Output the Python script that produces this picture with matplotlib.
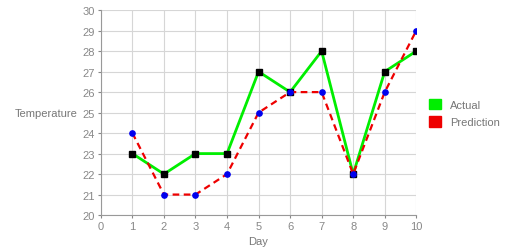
import matplotlib
matplotlib.use("Agg")
import matplotlib.pyplot as plt
from matplotlib.patches import Patch

plt.rcParams['font.family'] = ['Liberation Sans', 'DejaVu Sans']

days = [1, 2, 3, 4, 5, 6, 7, 8, 9, 10]
actual = [23, 22, 23, 23, 27, 26, 28, 22, 27, 28]
prediction = [24, 21, 21, 22, 25, 26, 26, 22, 26, 29]

fig = plt.figure(figsize=(5.12, 2.53), dpi=100)
ax = fig.add_axes([0.197, 0.146, 0.616, 0.81])

ax.plot(days, actual, color="#00ee00", lw=2, marker="s", ms=4.2,
        mfc="black", mec="black", zorder=3)
ax.plot(days, prediction, color="#ee0000", lw=1.6, ls=(0, (3, 2)), marker="o",
        ms=3.8, mfc="#0000ee", mec="#0000ee", zorder=4)

ax.set_xlim(0, 10)
ax.set_ylim(20, 30)
ax.set_xticks(range(0, 11))
ax.set_yticks(range(20, 31))
ax.grid(True, color="#d6d6d6", lw=0.8)
ax.set_axisbelow(True)
for s in ["top", "right"]:
    ax.spines[s].set_visible(False)
for s in ["left", "bottom"]:
    ax.spines[s].set_color("#999999")
ax.tick_params(colors="#888888", labelsize=8, length=2, pad=2)

ax.set_xlabel("Day", color="#777777", fontsize=8, labelpad=4)
ax.set_ylabel("Temperature", color="#777777", fontsize=8, rotation=0,
              ha="right", va="center", labelpad=4)

handles = [Patch(color="#00ee00", label="Actual"),
           Patch(color="#ee0000", label="Prediction")]
fig.legend(handles=handles, loc="center left", bbox_to_anchor=(0.818, 0.55),
           frameon=False, fontsize=8, handlelength=1.1, handleheight=1.1,
           labelcolor="#777777", handletextpad=0.8, labelspacing=0.55)

fig.savefig("out.png", dpi=100)
